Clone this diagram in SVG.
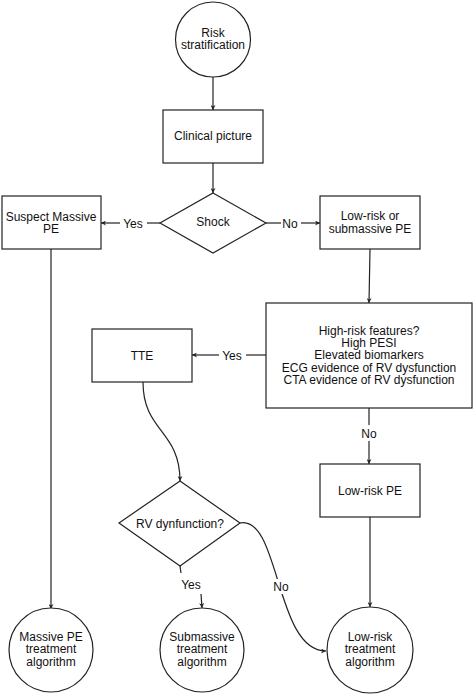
<svg xmlns="http://www.w3.org/2000/svg" width="474" height="696" viewBox="0 0 474 696">
<defs>
<marker id="ah" viewBox="0 0 10 10" refX="10" refY="5" markerWidth="5" markerHeight="5" orient="auto" markerUnits="userSpaceOnUse">
<path d="M0,0 L10,5 L0,10 L3,5 Z" fill="#222"/>
</marker>
<style>
.s{fill:#fff;stroke:#222;stroke-width:1.2}
.c{fill:none;stroke:#222;stroke-width:1.2}
.a{marker-end:url(#ah)}
text{font-family:"Liberation Sans",Arial,sans-serif;font-size:12px;fill:#111;text-anchor:middle}
.lb{paint-order:stroke;stroke:#fff;stroke-width:6px}
</style>
</defs>
<rect width="474" height="696" fill="#fff"/>
<g id="connectors">
<path class="c a" d="M213,77 L213,110"/>
<path class="c a" d="M213,163 L213,193"/>
<path class="c" d="M160,223 L147,223"/>
<path class="c a" d="M120,223 L101,223"/>
<path class="c" d="M266,223 L281,223"/>
<path class="c a" d="M301,223 L320,223"/>
<path class="c a" d="M370,249 L369,303"/>
<path class="c" d="M266,355 L246,355"/>
<path class="c a" d="M219,355 L192,355"/>
<path class="c" d="M369,408 L369,425"/>
<path class="c a" d="M369,441 L369,464"/>
<path class="c a" d="M143,382 C143,432 180,430 180,481"/>
<path class="c a" d="M51,249 L51,609"/>
<path class="c a" d="M370,517 L370,607"/>
<path class="c" d="M180,566 L181,573"/>
<path class="c a" d="M201,594 L202,608"/>
<path class="c a" d="M240,523 C280,515 275,651 326,651"/>
<text x="133" y="227.5">Yes</text>
<text x="290" y="227.5">No</text>
<text x="232" y="359.5">Yes</text>
<text x="369" y="437.5">No</text>
<text x="191" y="589">Yes</text>
<text x="281" y="591" class="lb">No</text>
</g>
<g id="risk-stratification">
<circle class="s" cx="213" cy="39.5" r="37.5"/>
<text x="213" y="37">Risk</text>
<text x="213" y="48.5">stratification</text>
</g>
<g id="clinical-picture">
<rect class="s" x="163" y="110" width="100" height="53"/>
<text x="213" y="140">Clinical picture</text>
</g>
<g id="shock">
<path class="s" d="M213,193 L266,223 L213,253 L160,223 Z"/>
<text x="213" y="226">Shock</text>
</g>
<g id="suspect-massive">
<rect class="s" x="2" y="196" width="99" height="53"/>
<text x="51" y="221">Suspect Massive</text>
<text x="51" y="232.5">PE</text>
</g>
<g id="low-risk-or-submassive">
<rect class="s" x="320" y="196" width="100" height="53"/>
<text x="370" y="220">Low-risk or</text>
<text x="370" y="232.5">submassive PE</text>
</g>
<g id="high-risk-features">
<rect class="s" x="266" y="303" width="206" height="105"/>
<text x="369" y="335">High-risk features?</text>
<text x="369" y="347">High PESI</text>
<text x="369" y="359.3">Elevated biomarkers</text>
<text x="369" y="371.6">ECG evidence of RV dysfunction</text>
<text x="369" y="383.6">CTA evidence of RV dysfunction</text>
</g>
<g id="tte">
<rect class="s" x="92" y="329" width="100" height="53"/>
<text x="142" y="359.5">TTE</text>
</g>
<g id="low-risk-pe">
<rect class="s" x="320" y="464" width="100" height="53"/>
<text x="370" y="494.5">Low-risk PE</text>
</g>
<g id="rv-dysfunction">
<path class="s" d="M180,481 L240,523 L180,566 L119,523 Z"/>
<text x="180" y="527.5">RV dynfunction?</text>
</g>
<g id="massive-treatment">
<circle class="s" cx="51" cy="650" r="42"/>
<text x="51" y="641">Massive PE</text>
<text x="51" y="653.3">treatment</text>
<text x="51" y="665.5">algorithm</text>
</g>
<g id="submassive-treatment">
<circle class="s" cx="202" cy="650" r="42"/>
<text x="202" y="641">Submassive</text>
<text x="202" y="653.3">treatment</text>
<text x="202" y="665.5">algorithm</text>
</g>
<g id="low-risk-treatment">
<circle class="s" cx="370" cy="650" r="43"/>
<text x="370" y="641">Low-risk</text>
<text x="370" y="653.3">treatment</text>
<text x="370" y="665.5">algorithm</text>
</g>
</svg>
